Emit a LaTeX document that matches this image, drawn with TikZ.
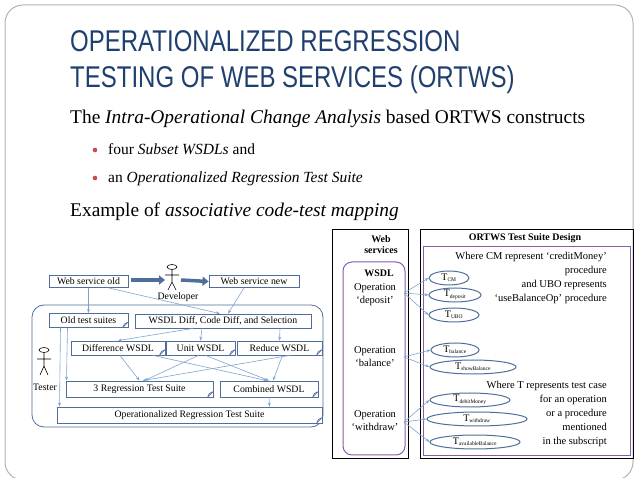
\documentclass[tikz,border=0pt]{standalone}
\usepackage{fontspec}
\setmainfont{Liberation Serif}
\newfontfamily\titlefont{Liberation Sans}
\usetikzlibrary{arrows.meta,shapes.geometric}
\definecolor{tblue}{HTML}{1F3F6E}
\definecolor{bbox}{HTML}{4F6E9A}
\definecolor{lblue}{HTML}{7FA3CF}
\definecolor{purp}{HTML}{8A5BAA}
\definecolor{bul}{HTML}{C0504D}
\begin{document}
\begin{tikzpicture}[x=1pt,y=-1pt,
  doc/.style={draw=bbox,fill=white,line width=0.8pt,inner sep=0pt,font=\fontsize{9.8}{11}\selectfont},
  arr/.style={draw=lblue,line width=0.6pt,-{Stealth[length=4pt]}},
  big/.style={draw=bbox,line width=3.5pt,-{Triangle[length=6pt,width=9pt]}},
  ell/.style={draw=bbox,ellipse,line width=1pt,inner sep=0pt,minimum height=14pt,font=\fontsize{10}{11}\selectfont},
  note/.style={anchor=base east,font=\fontsize{10.5}{12}\selectfont,inner sep=0pt},
  body/.style={anchor=base west,inner sep=0pt}]
\useasboundingbox (0,0) rectangle (638,478);
\draw[gray!60,line width=1pt,rounded corners=18pt] (5,5) rectangle (633,480);
% title
\node[body,text=tblue] (t1) at (70,52) {\titlefont\fontsize{30}{32}\selectfont\scalebox{0.8}[1]{OPERATIONALIZED REGRESSION}};
\node[body,text=tblue] (t2) at (70,88) {\titlefont\fontsize{30}{32}\selectfont\scalebox{0.8}[1]{TESTING OF WEB SERVICES (ORTWS)}};
\node[body] (b1) at (70,124) {\fontsize{19.4}{22}\selectfont The \textit{Intra-Operational Change Analysis} based ORTWS constructs};
\fill[bul] (95,150) circle (2.3pt);
\node[body] (b2) at (108,155) {\fontsize{15.5}{18}\selectfont four \textit{Subset WSDLs} and};
\fill[bul] (95,178) circle (2.3pt);
\node[body] (b3) at (108,183) {\fontsize{15.5}{18}\selectfont an \textit{Operationalized Regression Test Suite}};
\node[body] (b4) at (70,217) {\fontsize{19.4}{22}\selectfont Example of \textit{associative code-test mapping}};
% ---------- left diagram
\draw[bbox,line width=0.8pt,rounded corners=12pt] (32,305) rectangle (323,427);
\node[doc,minimum width=79pt,minimum height=12pt] (old) at (88.5,281.5) {Web service old};
\node[doc,minimum width=90pt,minimum height=12pt] (new) at (254,281.5) {Web service new};
% developer
\draw[black,line width=0.6pt] (172,267) ellipse (5pt and 2.5pt) (172,269.5) -- (172,282) (165,275) -- (179,275) (172,282) -- (168,290) (172,282) -- (176,290);
\node[font=\fontsize{9.8}{11}\selectfont,inner sep=0pt] (dev) at (178,297) {Developer};
\coordinate (da) at (165,280); \coordinate (db) at (181,280);
\draw[big] (131,280) -- (da);
\draw[big] (db) -- (new.west);
\node[doc,minimum width=79pt,minimum height=14pt] (ots) at (88.5,320.5) {Old test suites};
\node[doc,minimum width=176pt,minimum height=14pt] (diff) at (223,321) {WSDL Diff, Code Diff, and Selection};
\node[doc,minimum width=94pt,minimum height=14pt] (dw) at (118,348) {Difference WSDL};
\node[doc,minimum width=69pt,minimum height=14pt] (uw) at (200.5,348) {Unit WSDL};
\node[doc,minimum width=85pt,minimum height=14pt] (rw) at (279.5,348) {Reduce WSDL};
\node[doc,minimum width=147pt,minimum height=16pt] (rts) at (139.5,389) {3 Regression Test Suite};
\node[doc,minimum width=98pt,minimum height=16pt] (cw) at (269,389) {Combined WSDL};
\node[doc,minimum width=265pt,minimum height=16pt] (orts) at (189.5,415) {Operationalized Regression Test Suite};
\foreach \n in {ots,dw,uw,rw,rts,cw,orts}
  \draw[bbox,line width=0.6pt] ([xshift=-6pt]\n.south east) -- ([yshift=6pt]\n.south east)
     ([xshift=-6pt]\n.south east) -- ([xshift=-4pt,yshift=4pt]\n.south east) -- ([yshift=6pt]\n.south east);
% tester
\draw[black,line width=0.6pt] (44,350) ellipse (5pt and 2.5pt) (44,352.5) -- (44,366) (37,359) -- (51,359) (44,366) -- (40,375) (44,366) -- (48,375);
\node[font=\fontsize{9.8}{11}\selectfont,inner sep=0pt] (tester) at (45,387) {Tester};
% arrows
\draw[arr] (old.south) -- (ots.north);
\draw[arr] ([xshift=20pt]old.south) -- ([xshift=-3pt]diff.north);
\draw[arr] ([xshift=-10pt]new.south) -- ([xshift=5pt]diff.north);
\draw[arr] ([xshift=-30pt]diff.south) -- (dw.north);
\draw[arr] ([xshift=-21pt]diff.south) -- (uw.north);
\draw[arr] ([xshift=57pt]diff.south) -- (rw.north);
\draw[arr] ([xshift=-28pt]ots.south) -- ([xshift=-130pt]orts.north);
\draw[arr] ([xshift=-21pt]ots.south) -- ([xshift=-73pt]rts.north);
\draw[arr] ([xshift=2pt]dw.south) -- ([xshift=0pt]rts.north);
\draw[arr] ([xshift=35pt]dw.south) -- ([xshift=-2pt]cw.north);
\draw[arr] ([xshift=-2pt]uw.south) -- ([xshift=5pt]rts.north);
\draw[arr] ([xshift=5pt]uw.south) -- (cw.north);
\draw[arr] ([xshift=10pt]rw.south) -- ([xshift=3pt]rts.north);
\draw[arr] ([xshift=3pt]rw.south) -- ([xshift=4pt]cw.north);
\draw[arr] (cw.south) -- ([xshift=80pt]orts.north);
% ---------- right diagram
\draw[black,line width=0.8pt] (332,229) rectangle (408,458);
\draw[purp,line width=1pt,rounded corners=9pt] (343,262) rectangle (405,455);
\node[font=\bfseries\fontsize{10}{11}\selectfont,align=center,inner sep=0pt] (ws) at (381,245) {Web\\services};
\node[font=\bfseries\fontsize{10}{11}\selectfont,inner sep=0pt] (wsdl) at (379,273) {WSDL};
\node[font=\fontsize{10.5}{13}\selectfont,align=center,inner sep=0pt] (op1) at (375,295) {Operation\\`deposit'};
\node[font=\fontsize{10.5}{13}\selectfont,align=center,inner sep=0pt] (op2) at (375,357) {Operation\\`balance'};
\node[font=\fontsize{10.5}{13}\selectfont,align=center,inner sep=0pt] (op3) at (375,421) {Operation\\`withdraw'};
\draw[black,line width=0.8pt] (420,229) rectangle (633,458);
\draw[purp,line width=1pt] (423,247) rectangle (630,456);
\node[font=\bfseries\fontsize{10}{11}\selectfont,inner sep=0pt] (ot) at (525,238) {ORTWS Test Suite Design};
\node[ell,minimum width=40pt] (e1) at (449,278) {T\textsubscript{\fontsize{5.5}{6}\selectfont CM}};
\node[ell,minimum width=52pt] (e2) at (455,295) {T\textsubscript{\fontsize{5.5}{6}\selectfont deposit}};
\node[ell,minimum width=50pt] (e3) at (454,315) {T\textsubscript{\fontsize{5.5}{6}\selectfont UBO}};
\node[ell,minimum width=48pt] (e4) at (455,350) {T\textsubscript{\fontsize{5.5}{6}\selectfont balance}};
\node[ell,minimum width=86pt] (e5) at (473,367) {T\textsubscript{\fontsize{5.5}{6}\selectfont showBalance}};
\node[ell,minimum width=80pt] (e6) at (470,400) {T\textsubscript{\fontsize{5.5}{6}\selectfont debitMoney}};
\node[ell,minimum width=100pt] (e7) at (477,419) {T\textsubscript{\fontsize{5.5}{6}\selectfont withdraw}};
\node[ell,minimum width=90pt] (e8) at (475,442) {T\textsubscript{\fontsize{5.5}{6}\selectfont availableBalance}};
\coordinate (s1) at (404,293); \coordinate (s2) at (404,357); \coordinate (s3) at (404,422);
\foreach \e in {e1,e2,e3} \draw[arr] (s1) -- (\e.west);
\foreach \e in {e4,e5} \draw[arr] (s2) -- (\e.west);
\foreach \e in {e6,e7,e8} \draw[arr] (s3) -- (\e.west);
\node[note] (n1) at (607,260) {Where CM represent `creditMoney'};
\node[note] (n2) at (607,274) {procedure};
\node[note] (n3) at (607,288) {and UBO represents};
\node[note] (n4) at (607,302) {`useBalanceOp' procedure};
\node[note] (n5) at (607,389) {Where T represents test case};
\node[note] (n6) at (607,403) {for an operation};
\node[note] (n7) at (607,417) {or a procedure};
\node[note] (n8) at (607,431) {mentioned};
\node[note] (n9) at (607,445) {in the subscript};
\end{tikzpicture}
\end{document}
